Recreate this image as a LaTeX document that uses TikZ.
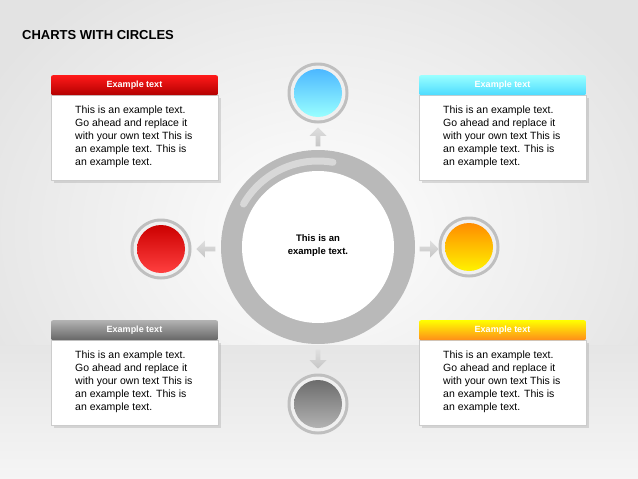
\documentclass[tikz,border=0pt]{standalone}
\usepackage{fontspec}
\setmainfont{Liberation Sans}
\usetikzlibrary{shapes.arrows,shadows}
\begin{document}
\begin{tikzpicture}[x=1pt,y=-1pt,
  hdr/.style={minimum width=167pt,minimum height=20pt,inner sep=0pt,font=\fontsize{9}{11}\selectfont\bfseries,text=white,rounded corners=2pt},
  bodybox/.style={draw=gray!40,fill=white,minimum width=167pt,minimum height=85pt,inner sep=0pt,drop shadow={opacity=0.25}},
  btext/.style={align=left,anchor=north west,inner sep=0pt,font=\fontsize{10.5}{13}\selectfont},
  blk/.style={single arrow,top color=gray!25,bottom color=gray!45,minimum height=19pt,minimum width=17pt,single arrow head extend=3pt,inner sep=1pt}]
\useasboundingbox (0,0) rectangle (638,479);
\fill[gray!22] (0,0) rectangle (638,479);
\shade[inner color=white,outer color=gray!22] (319,230) ellipse (380 and 300);
\shade[top color=gray!20,bottom color=gray!8] (0,345) rectangle (638,479);
\node[anchor=west,inner sep=0pt,font=\fontsize{13}{15}\selectfont\bfseries] (title) at (22,35) {CHARTS WITH CIRCLES};
% ring
\fill[gray!55] (318,247) circle (97);
\fill[white] (318,247) circle (76);
\draw[white,opacity=0.45,line width=7pt,line cap=round] (318,247) ++(-80:86) arc (-80:-150:86);
\node[align=center,font=\fontsize{9.5}{13}\selectfont\bfseries] (center) at (318,246) {This is an\\example text.};
% small circles
\foreach \n/\x/\y/\c/\d in {top/318/93/cyan!60!blue!70/cyan!40, left/161/249/red!80!black/red!75, right/469/247/orange!90!yellow/yellow!90!orange, bot/318/404/gray!85!black/gray!60}{
  \fill[gray!50] (\x,\y) circle (30.5);
  \fill[gray!12] (\x,\y) circle (27.5);
  \shade[top color=\c,bottom color=\d] (\x,\y) circle (24);
  \node (\n) at (\x,\y) {};
}
\node[blk,shape border rotate=90] (au) at (318,138) {};
\node[blk,shape border rotate=180] (al) at (207,249) {};
\node[blk] (ar) at (428,249) {};
\node[blk,shape border rotate=270] (ad) at (318,358) {};
% boxes
\foreach \n/\x/\y/\ca/\cb in {tl/134.5/75/red!90/red!70!black, tr/502.5/75/cyan!40/cyan!80!blue!70, bl/134.5/320/gray!60/gray!80!black, br/502.5/320/yellow/orange!90}{
  \node[bodybox,anchor=north] (\n b) at (\x,\y+20) {};
  \node[hdr,anchor=north,top color=\ca,bottom color=\cb] (\n h) at (\x,\y) {Example text};
  \node[btext] (\n t) at (\x-59.5,\y+31) {This is an example text.\\Go ahead and replace it\\with your own text This is\\an example text. This is\\an example text.};
}
\end{tikzpicture}
\end{document}
